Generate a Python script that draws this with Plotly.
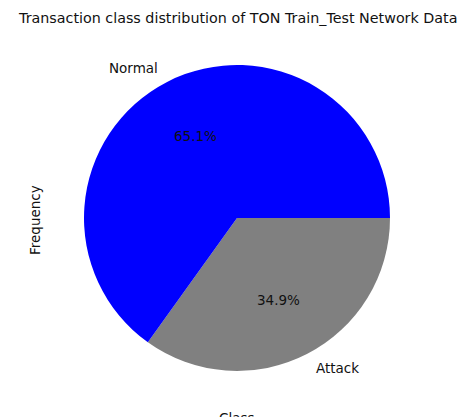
import math

import plotly.graph_objects as go

# ---------------------------------------------------------------------
# Data
# ---------------------------------------------------------------------
CLASSES = ["Normal", "Attack"]
SHARES = [65.1, 34.9]
COLORS = ["#0000ff", "#808080"]

TITLE = "Transaction class distribution of TON Train_Test Network Data"
X_LABEL = "Class"
Y_LABEL = "Frequency"

# canvas geometry (pixels)
W, H = 474, 417
CX, CY, R = 237, 218, 153
FONT = "DejaVu Sans"


def px_to_paper(x, y):
    """Pixel position (origin top-left) -> paper coordinates."""
    return x / W, 1 - y / H


def slice_mid_angles(values):
    """Mid angle (degrees, ccw from 3 o'clock) of each slice, matplotlib style."""
    total = sum(values)
    start = 0.0
    mids = []
    for v in values:
        span = 360.0 * v / total
        mids.append(start + span / 2)
        start += span
    return mids


fig = go.Figure()

# matplotlib draws ccw from 3 o'clock; in plotly the same look comes from
# the reversed order drawn clockwise from 3 o'clock
x0, y1 = px_to_paper(CX - R, CY - R)
x1, y0 = px_to_paper(CX + R, CY + R)
fig.add_trace(go.Pie(
    labels=CLASSES[::-1],
    values=SHARES[::-1],
    marker=dict(colors=COLORS[::-1], line=dict(width=0)),
    sort=False,
    direction="clockwise",
    rotation=90,
    textinfo="none",
    hoverinfo="label+percent",
    showlegend=False,
    domain=dict(x=[x0, x1], y=[y0, y1]),
))

annotations = []
total = sum(SHARES)
for name, val, ang in zip(CLASSES, SHARES, slice_mid_angles(SHARES)):
    c, s = math.cos(math.radians(ang)), math.sin(math.radians(ang))
    # outer class label at 1.1 r, percentage at 0.6 r
    lx, ly = px_to_paper(CX + 1.1 * R * c, CY - 1.1 * R * s)
    annotations.append(dict(
        x=lx, y=ly, xref="paper", yref="paper", text=name, showarrow=False,
        xanchor="right" if c < 0 else "left", yanchor="middle",
        font=dict(family=FONT, size=13.5, color="#111111"),
    ))
    tx, ty = px_to_paper(CX + 0.6 * R * c, CY - 0.6 * R * s)
    annotations.append(dict(
        x=tx, y=ty, xref="paper", yref="paper", text=f"{100 * val / total:.1f}%",
        showarrow=False, xanchor="center", yanchor="middle",
        font=dict(family=FONT, size=13.5, color="#111111"),
    ))

# title and axis labels
tx, ty = px_to_paper(237, 18)
annotations.append(dict(x=tx, y=ty, xref="paper", yref="paper", text=TITLE,
                        showarrow=False, xanchor="center", yanchor="middle",
                        font=dict(family=FONT, size=14.3, color="#111111")))
fx, fy = px_to_paper(35, 220)
annotations.append(dict(x=fx, y=fy, xref="paper", yref="paper", text=Y_LABEL,
                        showarrow=False, textangle=-90, xanchor="center", yanchor="middle",
                        font=dict(family=FONT, size=13.5, color="#111111")))
cx_, cy_ = px_to_paper(237, 418)
annotations.append(dict(x=cx_, y=cy_, xref="paper", yref="paper", text=X_LABEL,
                        showarrow=False, xanchor="center", yanchor="middle",
                        font=dict(family=FONT, size=13.5, color="#111111")))

fig.update_layout(
    width=W, height=H,
    margin=dict(l=0, r=0, t=0, b=0),
    paper_bgcolor="white",
    plot_bgcolor="white",
    annotations=annotations,
)

# drop the browser's default body margin so the figure sits at the page corner
fig.write_html(
    "out.html",
    config={"displayModeBar": False},
    post_script="document.body.style.margin = '0';",
)
